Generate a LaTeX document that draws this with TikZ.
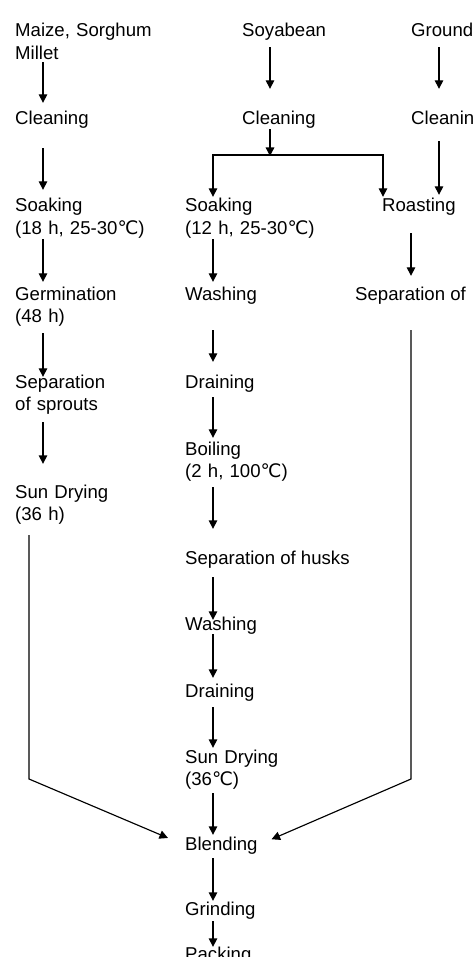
\documentclass[tikz,border=0pt]{standalone}
\usepackage{fontspec}
\setmainfont{Liberation Sans}
\newfontfamily\celsiusfont{DejaVu Sans}
\newcommand{\degc}{{\celsiusfont ℃}}
\usetikzlibrary{arrows.meta}
\tikzset{>={Triangle[length=8.5pt,width=8.5pt]},
         stage/.style={anchor=base west, inner sep=0pt, font=\fontsize{18.6}{22.5}\selectfont},
         stagetwo/.style={stage, text width=180pt, align=left},
         flow/.style={->, line width=1.35pt},
         bypass/.style={->, line width=1.15pt}}

\begin{document}
\begin{tikzpicture}[x=1pt, y=-1pt]
	\useasboundingbox (0,0) rectangle (474,957);

	\coordinate (xL) at (43,0);
	\coordinate (xLL) at (29,0);
	\coordinate (xM) at (213,0);
	\coordinate (xS) at (270,0);
	\coordinate (xRo) at (383,0);
	\coordinate (xRR) at (411,0);
	\coordinate (xR) at (439,0);

	\node[stagetwo] (maize) at (15,37) {Maize, Sorghum\\Millet};
	\node[stage] (cleanL) at (15,125) {Cleaning};
	\node[stagetwo] (soakL) at (15,212) {Soaking\\(18 h, 25-30\degc)};
	\node[stagetwo] (germL) at (15,300) {Germination\\(48 h)};
	\node[stagetwo] (sepL) at (15,388) {Separation\\of sprouts};
	\node[stagetwo] (dryL) at (15,498) {Sun Drying\\(36 h)};

	\node[stage] (soy) at (242,37) {Soyabean};
	\node[stage] (cleanM) at (242,125) {Cleaning};
	\node[stagetwo] (soakM) at (185,212) {Soaking\\(12 h, 25-30\degc)};
	\node[stage] (washM) at (185,300) {Washing};
	\node[stage] (drainM) at (185,388) {Draining};
	\node[stagetwo] (boil) at (185,455) {Boiling\\(2 h, 100\degc)};
	\node[stage] (husk) at (185,564) {Separation of husks};
	\node[stage] (washN) at (185,630) {Washing};
	\node[stage] (drainN) at (185,697) {Draining};
	\node[stagetwo] (dryM) at (185,763) {Sun Drying\\(36\degc)};
	\node[stage] (blend) at (185,850) {Blending};
	\node[stage] (grind) at (185,915) {Grinding};
	\node[stage] (pack) at (185,960.5) {Packing};

	\node[stage] (ground) at (411,37) {Ground};
	\node[stage] (cleanR) at (411,125) {Cleaning};
	\node[stage] (roast) at (382,212) {Roasting};
	\node[stage] (sepR) at (355,300) {Separation of};

	\coordinate (split) at (270,155);
	\coordinate (bendL) at (29,779);
	\coordinate (bendR) at (411,779);

	\draw[flow, shorten <=2.3pt, shorten >=8.5pt] (maize.south -| xL) -- (cleanL.north -| xL);
	\draw[flow, shorten <=19pt, shorten >=8.5pt] (cleanL.south -| xL) -- (soakL.north -| xL);
	\draw[flow, shorten <=0.5pt, shorten >=4.5pt] (soakL.south -| xL) -- (germL.north -| xL);
	\draw[flow, shorten <=6.5pt, shorten >=-2.5pt] (germL.south -| xL) -- (sepL.north -| xL);
	\draw[flow, shorten <=7.5pt, shorten >=20.5pt] (sepL.south -| xL) -- (dryL.north -| xL);
	\draw[bypass, shorten <=10.5pt, shorten >=18.5pt] (dryL.south -| xLL) -- (bendL) -- (blend.west);

	\draw[flow, shorten <=6pt, shorten >=22.5pt] (soy.south -| xS) -- (cleanM.north -| xS);
	\draw[flow, shorten >=-1pt] (cleanM.south -| split) -- (split);
	\draw[flow, shorten >=1.5pt] (split) -| (soakM.north -| xM);
	\draw[flow, shorten >=1.5pt] (split) -| (roast.north -| xRo);
	\draw[flow, shorten <=0.5pt, shorten >=4.5pt] (soakM.south -| xM) -- (washM.north -| xM);
	\draw[flow, shorten <=26pt, shorten >=12.5pt] (washM.south -| xM) -- (drainM.north -| xM);
	\draw[flow, shorten <=5pt, shorten >=3.5pt] (drainM.south -| xM) -- (boil.north -| xM);
	\draw[flow, shorten <=5.5pt, shorten >=21.5pt] (boil.south -| xM) -- (husk.north -| xM);
	\draw[flow, shorten <=9pt, shorten >=-3.5pt] (husk.south -| xM) -- (washN.north -| xM);
	\draw[flow, shorten >=5.5pt] (washN.south -| xM) -- (drainN.north -| xM);
	\draw[flow, shorten <=6pt, shorten >=1.5pt] (drainN.south -| xM) -- (dryM.north -| xM);
	\draw[flow, shorten <=3.5pt, shorten >=1.5pt] (dryM.south -| xM) -- (blend.north -| xM);
	\draw[flow, shorten <=4pt, shorten >=0.5pt] (blend.south -| xM) -- (grind.north -| xM);
	\draw[flow, shorten <=2pt] (grind.south -| xM) -- (pack.north -| xM);

	\draw[flow, shorten <=10pt, shorten >=22.5pt] (ground.south -| xR) -- (cleanR.north -| xR);
	\draw[flow, shorten <=12pt, shorten >=3.5pt] (cleanR.south -| xR) -- (roast.north -| xR);
	\draw[flow, shorten <=17pt, shorten >=10.5pt] (roast.south -| xRR) -- (sepR.north -| xRR);
	\draw[bypass, shorten <=26pt, shorten >=15pt] (sepR.south -| xRR) -- (bendR) -- (blend.east);
\end{tikzpicture}
\end{document}
